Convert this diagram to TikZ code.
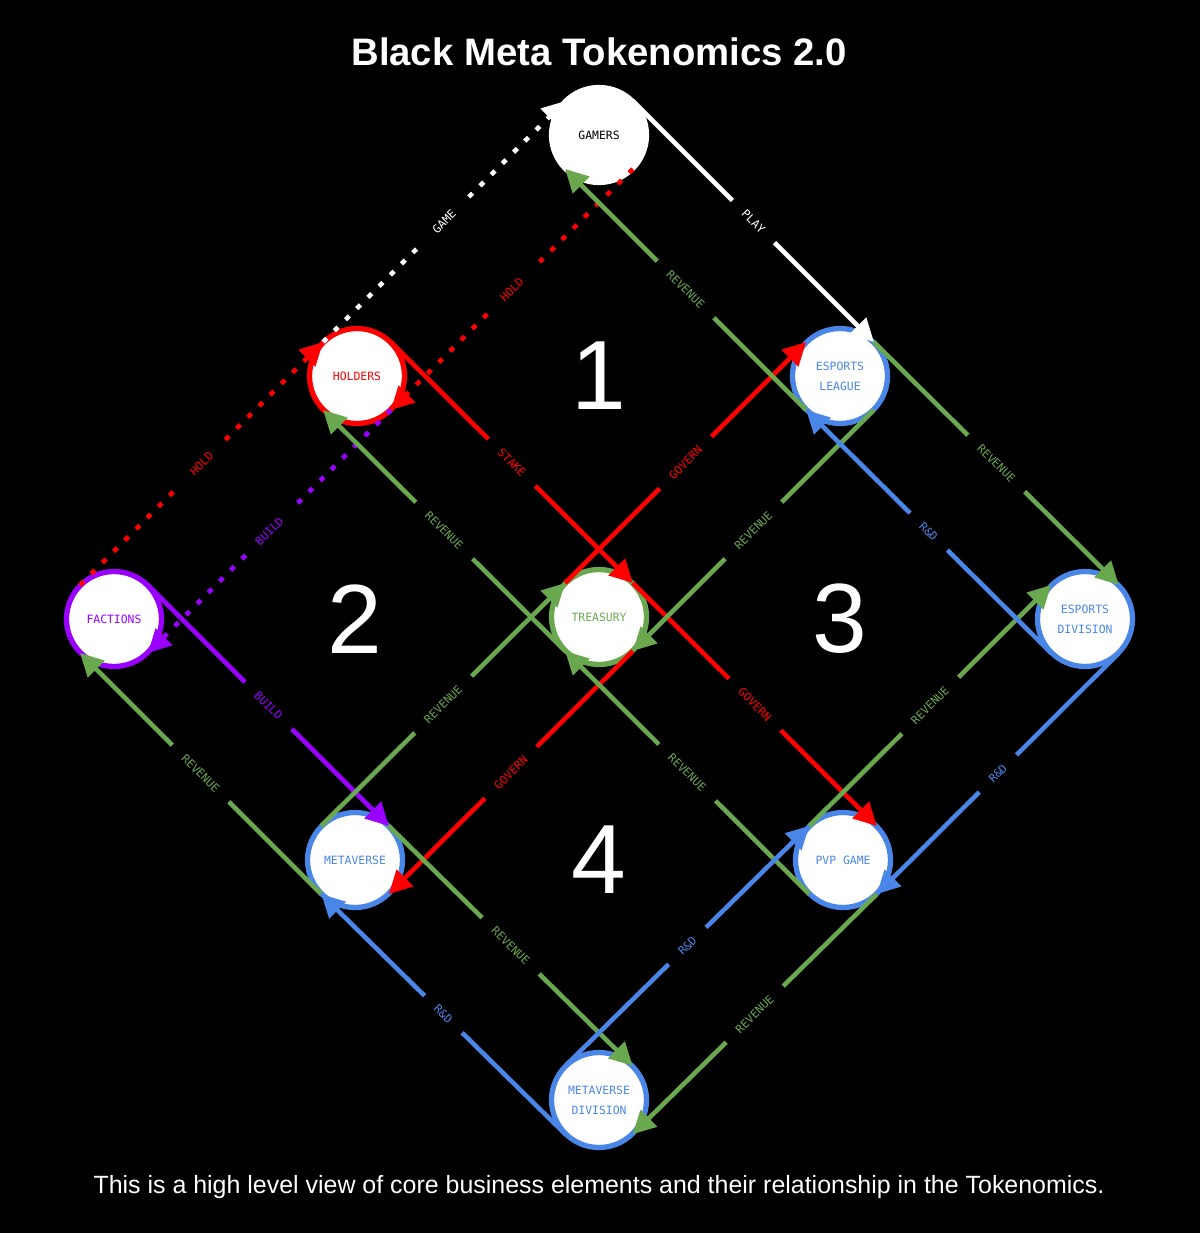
\documentclass[tikz,border=0pt]{standalone}
\usepackage{fontspec}
\setmainfont{Liberation Sans}
\setmonofont{DejaVu Sans Mono}
\usetikzlibrary{calc,arrows.meta}
\definecolor{rd}{HTML}{FF0000}
\definecolor{gn}{HTML}{6AA84F}
\definecolor{bl}{HTML}{4A86E8}
\definecolor{pu}{HTML}{9900FF}
\newcommand\off{0.96cm}
\newcommand\flow[4]{\draw[#1] ($(#2)!\off!90:(#3)$) -- node[lbl]{#4} ($(#3)!\off!-90:(#2)$);}
\tikzset{
  hub/.style={circle, fill=white, line width=3pt, minimum size=1.9cm, inner sep=0pt,
    align=center, font=\ttfamily\fontsize{6.5}{11.5}\selectfont},
  lbl/.style={midway, sloped, fill=black, inner xsep=9pt, inner ysep=1pt,
    font=\ttfamily\fontsize{6.5}{7}\selectfont},
  link/.style={line width=2.6pt, -{Triangle[length=13pt,width=13pt]}},
  dots/.style={link, dash pattern=on 3pt off 6pt},
  big/.style={text=white, font=\fontsize{56}{56}\selectfont}
}
\begin{document}
\begin{tikzpicture}[x=0.02cm,y=-0.02cm]
  \fill[black] (0,0) rectangle (1200,1233);
  \node[font=\bfseries\fontsize{21.8}{22}\selectfont, text=white] (title) at (599,52) {Black Meta Tokenomics 2.0};
  \node[font=\fontsize{14.2}{15}\selectfont, text=white] (note) at (599,1187)
    {This is a high level view of core business elements and their relationship in the Tokenomics.};
  % quadrant numbers
  \node[big] (q1) at (599,376) {1};
  \node[big] (q2) at (355,619) {2};
  \node[big] (q3) at (840,619) {3};
  \node[big] (q4) at (599,860) {4};
  % elements
  \node[hub, draw=white, text=black] (gam) at (599,135) {GAMERS};
  \node[hub, draw=rd, text=rd] (hold) at (357,376) {HOLDERS};
  \node[hub, draw=bl, text=bl] (el) at (840,376) {ESPORTS\\LEAGUE};
  \node[hub, draw=pu, text=pu] (fac) at (114,619) {FACTIONS};
  \node[hub, draw=gn, text=gn] (tre) at (599,617) {TREASURY};
  \node[hub, draw=bl, text=bl] (ed) at (1085,619) {ESPORTS\\DIVISION};
  \node[hub, draw=bl, text=bl] (meta) at (355,860) {METAVERSE};
  \node[hub, draw=bl, text=bl] (pvp) at (843,860) {PVP GAME};
  \node[hub, draw=bl, text=bl] (md) at (599,1100) {METAVERSE\\DIVISION};
  % players and holders
  \flow{link, color=white}{gam}{el}{PLAY}
  \flow{dots, color=white}{hold}{gam}{GAME}
  \flow{dots, color=rd}{gam}{hold}{HOLD}
  \flow{dots, color=rd}{fac}{hold}{HOLD}
  \flow{dots, color=pu}{hold}{fac}{BUILD}
  \flow{link, color=pu}{fac}{meta}{BUILD}
  % governance
  \flow{link, color=rd}{hold}{tre}{STAKE}
  \flow{link, color=rd}{tre}{pvp}{GOVERN}
  \flow{link, color=rd}{tre}{el}{GOVERN}
  \flow{link, color=rd}{tre}{meta}{GOVERN}
  % revenue
  \flow{link, color=gn}{el}{gam}{REVENUE}
  \flow{link, color=gn}{el}{ed}{REVENUE}
  \flow{link, color=gn}{tre}{hold}{REVENUE}
  \flow{link, color=gn}{el}{tre}{REVENUE}
  \flow{link, color=gn}{meta}{tre}{REVENUE}
  \flow{link, color=gn}{pvp}{tre}{REVENUE}
  \flow{link, color=gn}{pvp}{ed}{REVENUE}
  \flow{link, color=gn}{meta}{fac}{REVENUE}
  \flow{link, color=gn}{meta}{md}{REVENUE}
  \flow{link, color=gn}{pvp}{md}{REVENUE}
  % research
  \flow{link, color=bl}{ed}{el}{R\&D}
  \flow{link, color=bl}{ed}{pvp}{R\&D}
  \flow{link, color=bl}{md}{pvp}{R\&D}
  \flow{link, color=bl}{md}{meta}{R\&D}
\end{tikzpicture}
\end{document}
